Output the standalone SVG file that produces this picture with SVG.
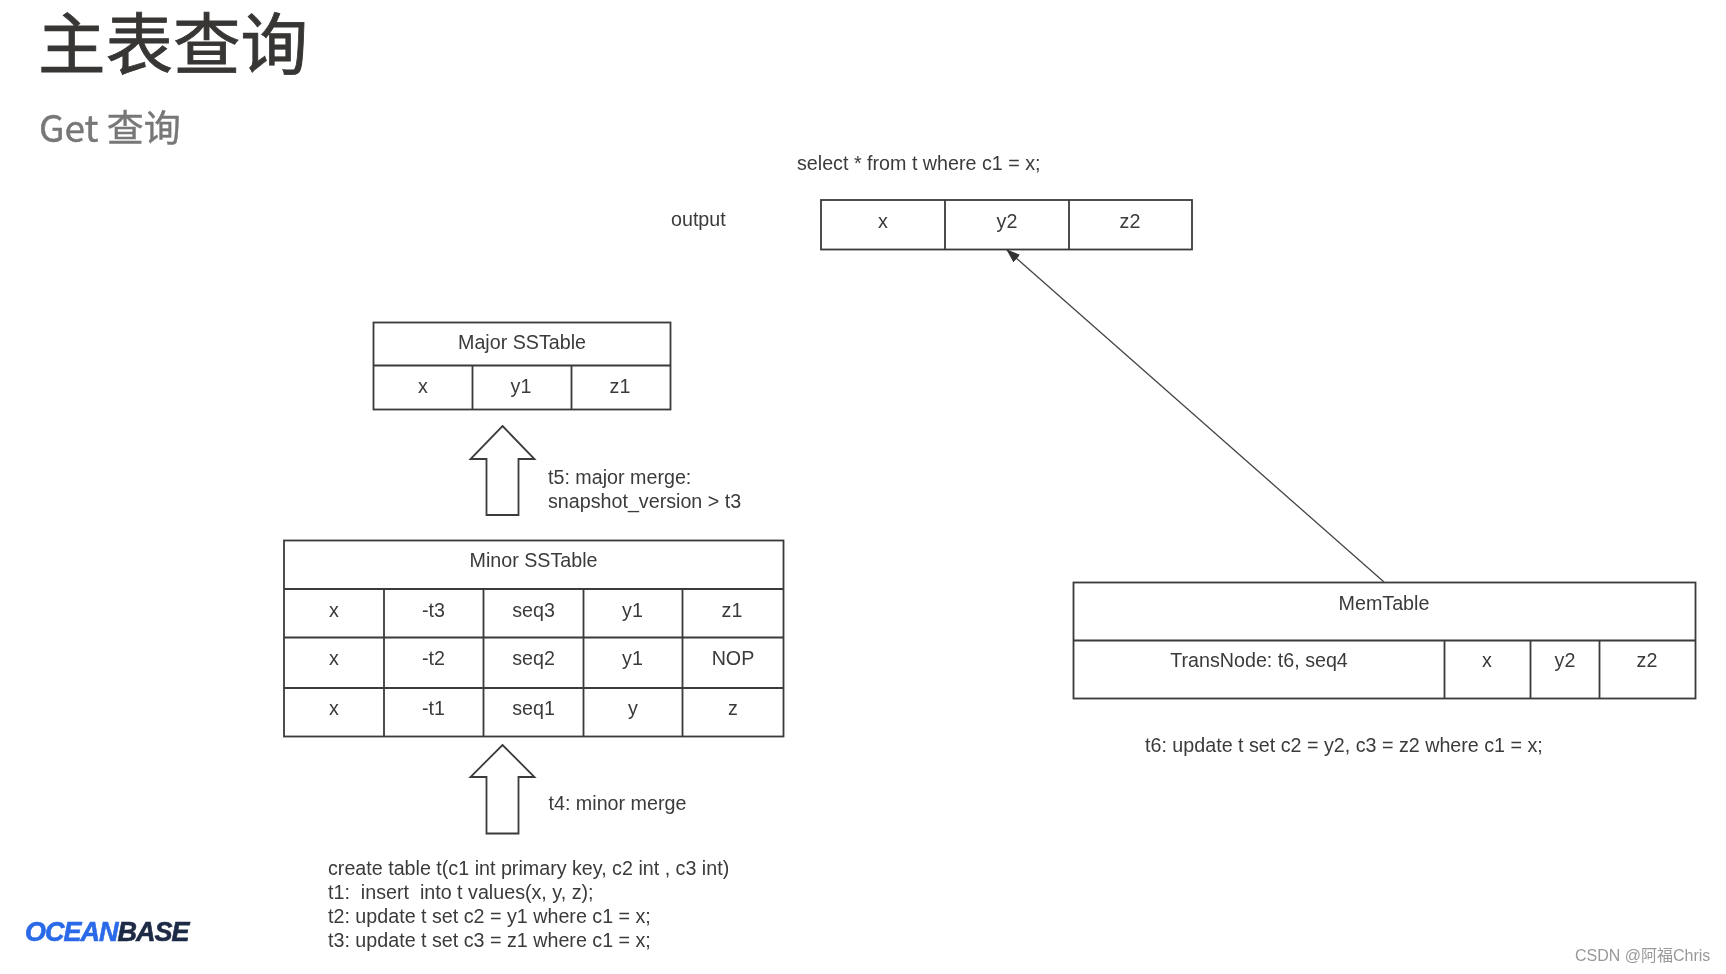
<svg xmlns="http://www.w3.org/2000/svg" width="1726" height="974" viewBox="0 0 1726 974">
<style>
.t{font-family:"Liberation Sans",Arial,sans-serif;font-size:19.7px;fill:#3a3a3a}
.m{text-anchor:middle}
.b{fill:none;stroke:#3a3a3a;stroke-width:1.8}
.a{fill:#fff;stroke:#3a3a3a;stroke-width:1.8}
</style>
<defs>
<marker id="ah" markerWidth="14" markerHeight="12" refX="13" refY="5" orient="auto" markerUnits="userSpaceOnUse"><path d="M0 0L14 5L0 10z" fill="#333"/></marker>
<filter id="soft" x="0" y="0" width="1" height="1"><feGaussianBlur stdDeviation="0.4"/></filter>
</defs>
<rect width="1726" height="974" fill="#fff"/>
<g filter="url(#soft)">
<g id="title">
<text x="38" y="69" font-family="'Noto Sans CJK SC',sans-serif" font-size="67.500" fill="#383535" stroke="#383535" stroke-width="0.8">主表查询</text>
<text x="39" y="142" font-family="'Noto Sans CJK SC','Open Sans',sans-serif" font-size="37" fill="#777" stroke="#777" stroke-width="0.4">Get 查询</text>
</g>
<g id="query"><text class="t" x="797" y="170">select * from t where c1 = x;</text></g>
<g id="output-label"><text class="t" x="671" y="226">output</text></g>
<g id="output">
<rect class="b" x="821" y="200" width="371" height="49.500"/>
<path class="b" d="M945 200V249.500M1069 200V249.500"/>
<text class="t m" x="883" y="228">x</text><text class="t m" x="1007" y="228">y2</text><text class="t m" x="1130" y="228">z2</text>
</g>
<g id="major">
<rect class="b" x="373.500" y="322.500" width="297" height="87"/>
<path class="b" d="M373.500 365.500H670.500M472.500 365.500V409.500M571.500 365.500V409.500"/>
<text class="t m" x="522" y="349">Major SSTable</text>
<text class="t m" x="423" y="393">x</text><text class="t m" x="521" y="393">y1</text><text class="t m" x="620" y="393">z1</text>
</g>
<g id="major-merge">
<path class="a" d="M502.500 426L534.500 459H518.500V515H486.500V459H470.500z"/>
<text class="t" x="548" y="484">t5: major merge:</text>
<text class="t" x="548" y="508">snapshot_version &gt; t3</text>
</g>
<g id="minor">
<rect class="b" x="284" y="540.500" width="499.500" height="196"/>
<path class="b" d="M284 589H783.500M284 637.500H783.500M284 688H783.500M384 589V736.500M483.500 589V736.500M583.500 589V736.500M682.500 589V736.500"/>
<text class="t m" x="533.500" y="567">Minor SSTable</text>
<text class="t m" x="334" y="617">x</text><text class="t m" x="433.500" y="617">-t3</text><text class="t m" x="533.500" y="617">seq3</text><text class="t m" x="632.500" y="617">y1</text><text class="t m" x="732" y="617">z1</text>
<text class="t m" x="334" y="665">x</text><text class="t m" x="433.500" y="665">-t2</text><text class="t m" x="533.500" y="665">seq2</text><text class="t m" x="632.500" y="665">y1</text><text class="t m" x="733" y="665">NOP</text>
<text class="t m" x="334" y="715">x</text><text class="t m" x="433.500" y="715">-t1</text><text class="t m" x="533.500" y="715">seq1</text><text class="t m" x="633" y="715">y</text><text class="t m" x="733" y="715">z</text>
</g>
<g id="minor-merge">
<path class="a" d="M502.500 745L534.500 777H518.500V833.500H486.500V777H470.500z"/>
<text class="t" x="548.500" y="810">t4: minor merge</text>
</g>
<g id="statements">
<text class="t" x="328" y="875">create table t(c1 int primary key, c2 int , c3 int)</text>
<text class="t" x="328" y="899" xml:space="preserve">t1:  insert  into t values(x, y, z);</text>
<text class="t" x="328" y="923">t2: update t set c2 = y1 where c1 = x;</text>
<text class="t" x="328" y="947">t3: update t set c3 = z1 where c1 = x;</text>
</g>
<g id="memtable">
<rect class="b" x="1073.500" y="582.500" width="622" height="116"/>
<path class="b" d="M1073.500 640.500H1695.500M1444.500 640.500V698.500M1530.500 640.500V698.500M1599.500 640.500V698.500"/>
<text class="t m" x="1384" y="610">MemTable</text>
<text class="t m" x="1259" y="667">TransNode: t6, seq4</text>
<text class="t m" x="1487" y="667">x</text><text class="t m" x="1565" y="667">y2</text><text class="t m" x="1647" y="667">z2</text>
<text class="t" x="1145" y="752">t6: update t set c2 = y2, c3 = z2 where c1 = x;</text>
</g>
<g id="connectors">
<path d="M1384 582L1007 250" fill="none" stroke="#444" stroke-width="1.3" marker-end="url(#ah)"/>
</g>
<g id="logo">
<text x="25" y="941" font-family="'Liberation Sans',sans-serif" font-size="27" font-weight="700" font-style="italic" letter-spacing="-1" stroke-width="0.6"><tspan fill="#2a6ae8" stroke="#2a6ae8">OCEAN</tspan><tspan fill="#1c2a44" stroke="#1c2a44">BASE</tspan></text>
</g>
<g id="watermark"><text x="1575" y="961" font-family="'Liberation Sans','Noto Sans CJK SC',sans-serif" font-size="16" fill="#999">CSDN @阿福Chris</text></g>
</g>
</svg>
